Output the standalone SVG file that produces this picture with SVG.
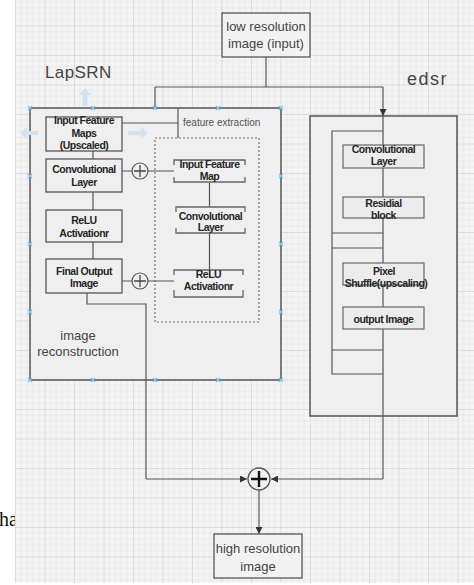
<svg xmlns="http://www.w3.org/2000/svg" width="474" height="585" viewBox="0 0 474 585">
<defs>
<pattern id="grid" x="15" y="25.5" width="29.5" height="29.5" patternUnits="userSpaceOnUse">
<rect width="29.5" height="29.5" fill="#f4f4f4"/>
<path d="M5.9 0V29.5M11.8 0V29.5M17.7 0V29.5M23.6 0V29.5M0 5.9H29.5M0 11.8H29.5M0 17.7H29.5M0 23.6H29.5" stroke="#e2e2e2" stroke-width="0.6" fill="none"/>
<path d="M0.3 0V29.5M0 0.3H29.5" stroke="#cfcfcf" stroke-width="0.8" fill="none"/>
</pattern>
<marker id="arr" viewBox="0 0 8 8" refX="8" refY="4" markerWidth="7" markerHeight="7" markerUnits="userSpaceOnUse" orient="auto">
<path d="M0 0L8 4L0 8z" fill="#333"/>
</marker>
<clipPath id="leftstrip"><rect x="0" y="0" width="15" height="585"/></clipPath>
<style>
.line{stroke:#555;stroke-width:1.2;fill:none}
.frame{fill:#efefef;stroke:#555;stroke-width:1.5}
.box{fill:#efefef;stroke:#555;stroke-width:1.3}
.ebox{fill:#ececec;stroke:#666;stroke-width:1.2}
.ibox{fill:#efefef;stroke:none}
.brk{stroke:#666;stroke-width:1.3;fill:none}
.bt{font-family:"Liberation Sans",Arial,sans-serif;font-size:10.5px;font-weight:bold;fill:#262626;text-anchor:middle;letter-spacing:-0.5px}
.nt{font-family:"Liberation Sans",Arial,sans-serif;font-size:13px;fill:#444;text-anchor:middle}
.title{font-family:"Liberation Sans",Arial,sans-serif;fill:#444}
.handle{stroke:#7cc3e6;stroke-width:1.2;fill:none}
.ghost{fill:#cfe3f3}
</style>
</defs>
<rect x="0" y="0" width="474" height="585" fill="#ffffff"/>
<rect x="15" y="0" width="459" height="583" fill="url(#grid)"/>
<text x="-1" y="526" clip-path="url(#leftstrip)" font-family="Liberation Serif,Times New Roman,serif" font-size="20" fill="#111">ha</text>

<g id="connectors">
<path class="line" d="M266 57V87M155 87H383M155 87V108"/>
<path class="line" d="M383 87V116" marker-end="url(#arr)"/>
</g>

<g id="lapsrn">
<rect class="frame" x="30" y="108" width="251" height="272"/>
<text class="title" x="45" y="78" font-size="17" letter-spacing="0.4">LapSRN</text>
<text class="nt" x="78" y="340">image</text>
<text class="nt" x="78" y="356">reconstruction</text>
</g>

<g id="feature-extraction">
<rect x="155" y="138" width="104" height="184" fill="#efefef" stroke="#777" stroke-width="1.2" stroke-dasharray="2,2"/>
<text x="183" y="126" font-family="Liberation Sans,Arial,sans-serif" font-size="10" fill="#555">feature extraction</text>
</g>

<g id="lap-connectors">
<path class="line" d="M122 123H178M178 108V138"/>
<path class="line" d="M93 151V159M93 192V210M93 242V259"/>
<path class="line" d="M87 293V304H146V479" />
<path class="line" d="M146 479H247" marker-end="url(#arr)"/>
<path class="line" d="M122 171H132M148 171H174M122 281H132M148 281H174"/>
<path class="line" d="M209.5 182V207M209.5 233V270"/>
</g>

<g id="input-feature-maps">
<rect class="box" x="46" y="117" width="76" height="34"/>
<text class="bt" x="84" y="124">Input Feature</text>
<text class="bt" x="84" y="137">Maps</text>
<text class="bt" x="84" y="149">(Upscaled)</text>
</g>
<g id="conv-layer-left">
<rect class="box" x="46" y="159" width="76" height="33"/>
<text class="bt" x="84" y="173">Convolutional</text>
<text class="bt" x="84" y="186">Layer</text>
</g>
<g id="relu-left">
<rect class="box" x="46" y="210" width="76" height="32"/>
<text class="bt" x="84" y="224">ReLU</text>
<text class="bt" x="84" y="237">Activationr</text>
</g>
<g id="final-output">
<rect class="box" x="46" y="259" width="76" height="34"/>
<text class="bt" x="84" y="275">Final Output</text>
<text class="bt" x="84" y="287">Image</text>
</g>

<g id="sum1">
<circle cx="140" cy="171" r="8" fill="#efefef" stroke="#555" stroke-width="1.2"/>
<path d="M134 171H146M140 165V177" stroke="#444" stroke-width="1.3"/>
</g>
<g id="sum2">
<circle cx="140" cy="281" r="8" fill="#efefef" stroke="#555" stroke-width="1.2"/>
<path d="M134 281H146M140 275V287" stroke="#444" stroke-width="1.3"/>
</g>

<g id="inner-input-feature-map">
<rect class="ibox" x="174" y="160" width="71" height="22"/>
<path class="brk" d="M174 165V160H245V165M174 177V182H245V177"/>
<text class="bt" x="209.5" y="168">Input Feature</text>
<text class="bt" x="209.5" y="180">Map</text>
</g>
<g id="inner-conv-layer">
<rect class="ibox" x="176" y="207" width="69" height="26"/>
<path class="brk" d="M176 212V207H245V212M176 228V233H245V228"/>
<text class="bt" x="210.5" y="220">Convolutional</text>
<text class="bt" x="210.5" y="231">Layer</text>
</g>
<g id="inner-relu">
<rect class="ibox" x="174" y="270" width="69" height="27"/>
<path class="brk" d="M174 275V270H243V275M174 290V297H243V290"/>
<text class="bt" x="208.5" y="278">ReLU</text>
<text class="bt" x="208.5" y="290">Activationr</text>
</g>

<g id="handles">
<path class="handle" d="M28 106l4 4M32 106l-4 4M91 106l4 4M95 106l-4 4M153 106l4 4M157 106l-4 4M216 106l4 4M220 106l-4 4M279 106l4 4M283 106l-4 4M28 378l4 4M32 378l-4 4M91 378l4 4M95 378l-4 4M153 378l4 4M157 378l-4 4M216 378l4 4M220 378l-4 4M279 378l4 4M283 378l-4 4M28 174l4 4M32 174l-4 4M28 242l4 4M32 242l-4 4M28 310l4 4M32 310l-4 4M279 174l4 4M283 174l-4 4M279 242l4 4M283 242l-4 4M279 310l4 4M283 310l-4 4"/>
<path class="ghost" d="M85 88L91 95H87.5V106H82.5V95H79z"/>
<path class="ghost" d="M20 133L27 127V131H38V135H27V139z"/>
<path class="ghost" d="M148 133L141 127V131H128V135H141V139z"/>
</g>

<g id="edsr">
<rect class="frame" x="310" y="116" width="147" height="300"/>
<text class="title" x="407" y="85" font-size="18" letter-spacing="1.5">edsr</text>
<path class="line" d="M383 116V479"/>
<path class="line" d="M383 479H271" marker-end="url(#arr)"/>
<path class="line" d="M383 131H332V374H383M332 233H383M332 248H383M332 350H383"/>
</g>
<g id="edsr-conv">
<rect class="ebox" x="343" y="145" width="81" height="23"/>
<text class="bt" x="383.5" y="153">Convolutional</text>
<text class="bt" x="383.5" y="165">Layer</text>
</g>
<g id="edsr-residual">
<rect class="ebox" x="343" y="197" width="81" height="21"/>
<text class="bt" x="383.5" y="207">Residial</text>
<text class="bt" x="383.5" y="219">block</text>
</g>
<g id="edsr-pixel-shuffle">
<rect class="ebox" x="343" y="263" width="81" height="22"/>
<text class="bt" x="384" y="275">Pixel</text>
<text class="bt" x="386" y="287">Shuffle(upscaling)</text>
</g>
<g id="edsr-output">
<rect class="ebox" x="343" y="307" width="81" height="22"/>
<text class="bt" x="383.5" y="323">output Image</text>
</g>

<g id="low-res-input">
<rect x="222" y="13" width="88" height="44" fill="#f2f2f2" stroke="#555" stroke-width="1.3"/>
<text class="nt" x="266" y="31">low resolution</text>
<text class="nt" x="266" y="48">image (input)</text>
</g>

<g id="final-sum">
<circle cx="259" cy="479" r="11" fill="#f2f2f2" stroke="#555" stroke-width="1.3"/>
<path d="M251 479H267M259 471V487" stroke="#111" stroke-width="2.4"/>
<path class="line" d="M259 490V534" marker-end="url(#arr)"/>
</g>

<g id="high-res-output">
<rect x="214" y="534" width="88" height="44" fill="#f2f2f2" stroke="#555" stroke-width="1.3"/>
<text class="nt" x="258" y="553">high resolution</text>
<text class="nt" x="258" y="571">image</text>
</g>
</svg>
